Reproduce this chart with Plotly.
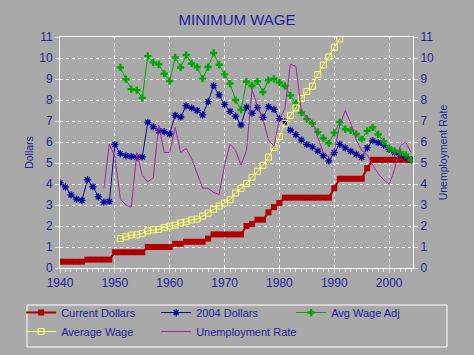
import plotly.graph_objects as go

years_all = list(range(1940, 2005))
current_dollars = [0.30, 0.30, 0.30, 0.30, 0.30, 0.40, 0.40, 0.40, 0.40, 0.40,
                   0.75, 0.75, 0.75, 0.75, 0.75, 0.75, 1.00, 1.00, 1.00, 1.00,
                   1.00, 1.15, 1.15, 1.25, 1.25, 1.25, 1.25, 1.40, 1.60, 1.60,
                   1.60, 1.60, 1.60, 1.60, 2.00, 2.10, 2.30, 2.30, 2.65, 2.90,
                   3.10, 3.35, 3.35, 3.35, 3.35, 3.35, 3.35, 3.35, 3.35, 3.35,
                   3.80, 4.25, 4.25, 4.25, 4.25, 4.25, 4.75, 5.15, 5.15, 5.15,
                   5.15, 5.15, 5.15, 5.15, 5.15]
dollars_2004 = [4.05, 3.86, 3.48, 3.28, 3.22, 4.20, 3.87, 3.39, 3.14, 3.17,
                5.88, 5.45, 5.35, 5.31, 5.27, 5.29, 6.94, 6.72, 6.54, 6.49,
                6.38, 7.27, 7.19, 7.72, 7.62, 7.50, 7.29, 7.92, 8.68, 8.24,
                7.79, 7.46, 7.23, 6.81, 7.66, 7.37, 7.64, 7.17, 7.68, 7.55,
                7.11, 6.96, 6.56, 6.35, 6.09, 5.88, 5.77, 5.57, 5.35, 5.10,
                5.49, 5.89, 5.72, 5.56, 5.42, 5.27, 5.72, 6.06, 5.97, 5.84,
                5.65, 5.49, 5.41, 5.29, 5.15]

years_adj = list(range(1951, 2005))
avg_wage_adj = [9.55, 8.99, 8.52, 8.47, 8.10, 10.09, 9.79, 9.70, 9.25, 8.90,
                10.03, 9.55, 10.14, 9.74, 9.57, 9.02, 9.57, 10.24, 9.68, 9.22,
                8.78, 8.00, 7.53, 8.88, 8.67, 8.89, 8.38, 8.95, 9.01, 8.83,
                8.67, 8.22, 7.84, 7.40, 7.10, 6.89, 6.48, 6.18, 5.94, 6.44,
                6.95, 6.61, 6.55, 6.38, 6.13, 6.53, 6.69, 6.36, 6.03, 5.71,
                5.58, 5.52, 5.39, 5.15]

years_avg = list(range(1951, 1992))
average_wage = [1.40, 1.49, 1.57, 1.58, 1.65, 1.77, 1.82, 1.84, 1.93, 2.00,
                2.04, 2.15, 2.20, 2.29, 2.33, 2.47, 2.61, 2.79, 2.95, 3.09,
                3.25, 3.57, 3.79, 4.02, 4.32, 4.61, 4.89, 5.28, 5.74, 6.26,
                6.89, 7.27, 7.62, 8.07, 8.41, 8.66, 9.21, 9.67, 10.05, 10.51,
                10.91]

years_unemp = list(range(1948, 2005))
unemployment = [3.8, 5.9, 5.3, 3.3, 3.0, 2.9, 5.5, 4.4, 4.1, 4.3,
                6.8, 5.5, 5.5, 6.7, 5.5, 5.7, 5.2, 4.5, 3.8, 3.8,
                3.6, 3.5, 4.9, 5.9, 5.6, 4.9, 5.6, 8.5, 7.7, 7.1,
                6.1, 5.8, 7.1, 7.6, 9.7, 9.6, 7.5, 7.2, 7.0, 6.2,
                5.5, 5.3, 5.6, 6.8, 7.5, 6.9, 6.1, 5.6, 5.4, 4.9,
                4.5, 4.2, 4.0, 4.7, 5.8, 6.0, 5.5]

x_ticks = [1940, 1950, 1960, 1970, 1980, 1990, 2000]
y_ticks = list(range(0, 12))

BG = "#a9a9a9"
NAVY = "#1f1f9c"
FONT = "Arial, Liberation Sans, sans-serif"

fig = go.Figure()
fig.add_trace(go.Scatter(x=years_all, y=current_dollars, name="Current Dollars",
                         mode="lines+markers",
                         line=dict(color="#b00000", width=2),
                         marker=dict(symbol="square", size=6, color="#b00000")))
fig.add_trace(go.Scatter(x=years_all, y=dollars_2004, name="2004 Dollars",
                         mode="lines+markers",
                         line=dict(color="#0a0a9a", width=1),
                         marker=dict(symbol="asterisk-open", size=6,
                                     line=dict(color="#0a0a9a", width=1.3))))
fig.add_trace(go.Scatter(x=years_adj, y=avg_wage_adj, name="Avg Wage Adj",
                         mode="lines+markers",
                         line=dict(color="#00a800", width=1),
                         marker=dict(symbol="cross", size=6, color="#00a800",
                                     line=dict(width=0))))
fig.add_trace(go.Scatter(x=years_avg, y=average_wage, name="Average Wage",
                         mode="lines+markers",
                         line=dict(color="#ffff66", width=1),
                         marker=dict(symbol="square-open", size=6,
                                     line=dict(color="#ffff66", width=1))))
fig.add_trace(go.Scatter(x=years_unemp, y=unemployment, name="Unemployment Rate",
                         mode="lines", yaxis="y2",
                         line=dict(color="#a822a8", width=1)))

axis_common = dict(
    showline=True, linecolor="white", linewidth=1,
    ticks="outside", ticklen=4, tickcolor="#e6e6e6",
    tickfont=dict(family=FONT, size=12, color=NAVY),
    zeroline=False, automargin=False,
)

fig.update_layout(
    width=474, height=355,
    paper_bgcolor=BG, plot_bgcolor=BG,
    margin=dict(l=60, r=61, t=37, b=87, autoexpand=False),
    title=dict(text="MINIMUM WAGE", x=0.5, xanchor="center",
               y=1 - 20 / 355, yanchor="middle", yref="container",
               font=dict(family=FONT, size=15, color=NAVY)),
    showlegend=True,
    legend=dict(orientation="h", x=-0.11, xanchor="left",
                y=-0.13, yanchor="top",
                bgcolor="rgba(0,0,0,0)", borderwidth=0,
                entrywidth=90, entrywidthmode="pixels",
                font=dict(family=FONT, size=11, color=NAVY),
                traceorder="normal"),
    xaxis=dict(range=[1940, 2004.35], tickvals=x_ticks, mirror=True,
               showgrid=True, gridcolor="white", griddash="dot", gridwidth=1,
               minor=dict(dtick=1, tick0=1940, ticks="outside", ticklen=3,
                          tickcolor="#e6e6e6", showgrid=False),
               **axis_common),
    yaxis=dict(range=[0, 11], tickvals=y_ticks,
               showgrid=True, gridcolor="white", griddash="dot", gridwidth=1,
               title=dict(text="Dollars", standoff=3,
                          font=dict(family=FONT, size=10.5, color=NAVY)),
               **axis_common),
    yaxis2=dict(range=[0, 11], tickvals=y_ticks, overlaying="y", side="right",
                showgrid=False,
                title=dict(text="Unemployment Rate", standoff=6,
                           font=dict(family=FONT, size=10.5, color=NAVY)),
                **axis_common),
    shapes=[dict(type="rect", xref="paper", yref="paper",
                 x0=(27 - 60) / 353, x1=(447 - 60) / 353,
                 y0=(268 - 347) / 231, y1=(268 - 305) / 231,
                 line=dict(color="white", width=1), fillcolor="rgba(0,0,0,0)",
                 layer="above")],
)

fig.write_html("out.html",
               config={"displayModeBar": False},
               post_script="document.body.style.margin='0';"
                           "document.body.style.background='" + BG + "';")
